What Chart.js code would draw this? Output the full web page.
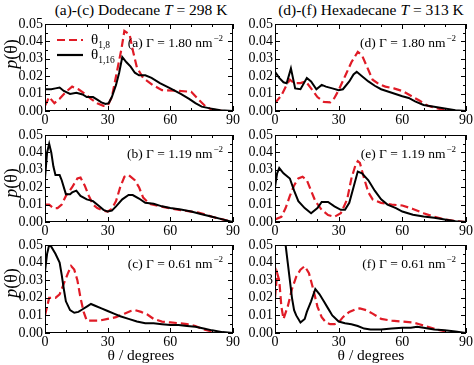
<!DOCTYPE html>
<html lang="en">
<head>
<meta charset="UTF-8">
<title>p(theta) - Dodecane / Hexadecane</title>
<script src="https://cdn.jsdelivr.net/npm/chart.js@4.4.0/dist/chart.umd.min.js"></script>
<style>
  body { margin: 0; background: #fff; }
  #wrap { position: relative; width: 474px; height: 365px; font-family: "Liberation Serif", "DejaVu Serif", serif; color: #000; }
  canvas { position: absolute; }
  .txt { position: absolute; white-space: nowrap; line-height: 18px; }
  .big { font-size: 15.5px; }
  .ylab { font-size: 18px; transform: translate(-50%, -50%) rotate(-90deg); }
  .ctr { transform: translateX(-50%); }
</style>
</head>
<body>
<div id="wrap">
  <div class="txt big ctr" style="left:141px; top:1px;">(a)-(c) Dodecane <i>T</i> = 298 K</div>
  <div class="txt big ctr" style="left:371px; top:1px;">(d)-(f) Hexadecane <i>T</i> = 313 K</div>

  <canvas id="pa" width="240" height="113" style="left:0px; top:14px;"></canvas>
  <canvas id="pb" width="240" height="113" style="left:0px; top:125px;"></canvas>
  <canvas id="pc" width="240" height="114" style="left:0px; top:235px;"></canvas>
  <canvas id="pd" width="239" height="113" style="left:235px; top:14px;"></canvas>
  <canvas id="pe" width="239" height="113" style="left:235px; top:125px;"></canvas>
  <canvas id="pf" width="239" height="114" style="left:235px; top:235px;"></canvas>

  <div class="txt ylab" style="left:11px; top:54px;"><i>p</i>(θ)</div>
  <div class="txt ylab" style="left:11px; top:183px;"><i>p</i>(θ)</div>
  <div class="txt ylab" style="left:11px; top:283px;"><i>p</i>(θ)</div>

  <div class="txt big ctr" style="left:141px; top:346px;">θ / degrees</div>
  <div class="txt big ctr" style="left:371px; top:346px;">θ / degrees</div>
</div>

<script>
  // [angle in degrees, p(theta)]
  // (a) dodecane, 1.80 nm^-2
  const a_t18 = [[0,0.003],[2,0.008],[4.5,0.0045],[7,0.007],[10,0.011],[13,0.014],[16,0.0125],[19,0.010],[22,0.007],[25,0.0045],[28,0.003],[30,0.003],[32,0.008],[34,0.02],[36.5,0.035],[38,0.046],[40.5,0.044],[42,0.035],[44,0.025],[47,0.019],[51.5,0.015],[56,0.012],[63,0.0117],[70,0.011],[74,0.006],[77,0.0025],[80,0.0008],[85,0],[90,0]];
  const a_t116 = [[0,0.0125],[3,0.0125],[5,0.013],[7,0.0135],[9,0.0115],[12,0.0098],[15,0.0105],[18,0.0095],[20,0.008],[23,0.008],[25,0.0065],[27,0.005],[29,0.004],[30.5,0.0045],[32,0.008],[34,0.015],[35.5,0.022],[37,0.031],[39,0.028],[41,0.0255],[43,0.022],[45,0.0205],[48,0.0205],[51,0.019],[55,0.016],[60,0.013],[65,0.0098],[69,0.007],[72,0.0045],[75,0.0025],[79,0.0015],[84,0.0005],[90,0]];
  // (b) dodecane, 1.19 nm^-2
  const b_t18 = [[0,0.01],[2,0.01],[4,0.008],[6,0.008],[8,0.01],[10,0.015],[13,0.02],[15.5,0.025],[17,0.0255],[19,0.021],[21,0.015],[23,0.01],[25,0.008],[28,0.0065],[30,0.006],[32,0.0075],[34,0.012],[36,0.02],[38,0.026],[40,0.027],[43,0.024],[45,0.02],[47,0.014],[50,0.0105],[55,0.009],[60,0.0078],[65,0.0068],[70,0.006],[73,0.0055],[76,0.0045],[80,0.003],[85,0.0015],[90,0]];
  const b_t116 = [[0,0.025],[1,0.04],[2,0.045],[3,0.04],[4,0.032],[5,0.027],[7,0.027],[8,0.024],[10,0.016],[12,0.016],[13,0.017],[15,0.018],[17,0.015],[20,0.013],[23,0.012],[26,0.009],[28,0.007],[30,0.006],[32,0.0065],[34,0.009],[37,0.013],[40,0.0155],[42,0.0155],[45,0.0135],[48,0.011],[52,0.0105],[56,0.009],[60,0.008],[65,0.0072],[70,0.006],[75,0.0045],[80,0.003],[85,0.0015],[90,0]];
  // (c) dodecane, 0.61 nm^-2
  const c_t18 = [[0,0.01],[2,0.02],[5,0.02],[7,0.022],[9,0.028],[11,0.034],[12.5,0.038],[14,0.036],[15.5,0.03],[17,0.02],[18.5,0.012],[20,0.007],[23,0.007],[26,0.007],[30,0.008],[34,0.009],[38,0.011],[41,0.0125],[43,0.013],[46,0.012],[49,0.0105],[52,0.008],[56,0.0065],[60,0.006],[65,0.0055],[68,0.005],[72,0.004],[76,0.002],[80,0.0008],[84,0],[90,0]];
  const c_t116 = [[0,0.035],[1,0.045],[2,0.05],[3,0.049],[5,0.045],[7,0.04],[8,0.033],[9,0.025],[10,0.018],[12,0.013],[14,0.0115],[16,0.012],[18,0.0135],[20,0.015],[22,0.0165],[24,0.0155],[27,0.014],[30,0.0125],[33,0.011],[36,0.0095],[40,0.008],[44,0.0065],[48,0.0055],[52,0.0055],[56,0.005],[60,0.0045],[64,0.0045],[68,0.004],[72,0.0035],[76,0.0025],[80,0.0015],[85,0.0005],[90,0]];
  // (d) hexadecane, 1.80 nm^-2
  const d_t18 = [[0,0.0045],[3,0.009],[5.5,0.015],[7,0.018],[9,0.016],[12,0.016],[14.5,0.017],[17,0.013],[20,0.008],[23,0.0052],[26,0.005],[28,0.0075],[30,0.012],[33,0.02],[36,0.028],[39,0.034],[41,0.032],[43.5,0.025],[46,0.018],[49,0.0155],[52,0.014],[56,0.013],[60,0.0115],[63,0.0095],[68,0.006],[72,0.003],[78,0.001],[83,0],[90,0]];
  const d_t116 = [[0,0.0225],[2,0.019],[4,0.0165],[5.5,0.016],[7.5,0.0245],[9.5,0.013],[12,0.0125],[15,0.019],[17,0.017],[19.5,0.0125],[22,0.015],[24,0.014],[27,0.013],[30,0.012],[32,0.0125],[35,0.017],[37,0.021],[38.5,0.0225],[41,0.020],[44,0.017],[47,0.0145],[50,0.0125],[55,0.0105],[60,0.0085],[63,0.0075],[66,0.0055],[70,0.0035],[75,0.0025],[80,0.0015],[85,0.0005],[90,0]];
  // (e) hexadecane, 1.19 nm^-2
  const e_t18 = [[0,0.0015],[3,0.003],[5,0.008],[7,0.015],[9,0.021],[11,0.025],[13,0.026],[15,0.024],[17,0.018],[19,0.012],[22,0.007],[25,0.004],[28,0.003],[31,0.005],[34,0.013],[36,0.025],[38,0.033],[39,0.035],[40,0.034],[42,0.025],[44,0.017],[46,0.013],[50,0.011],[55,0.010],[60,0.0095],[65,0.0075],[70,0.005],[75,0.003],[80,0.0015],[85,0.0005],[90,0]];
  const e_t116 = [[0,0.02],[1,0.028],[2,0.031],[4,0.028],[7,0.025],[9,0.018],[11,0.012],[14,0.008],[17,0.005],[20,0.008],[22,0.0115],[25,0.0115],[28,0.009],[31,0.007],[33,0.007],[35,0.011],[37,0.02],[39,0.029],[41,0.028],[44,0.024],[47,0.018],[50,0.013],[53,0.010],[57,0.008],[60,0.006],[65,0.0042],[70,0.0032],[75,0.0025],[80,0.0015],[85,0.0005],[90,0]];
  // (f) hexadecane, 0.61 nm^-2
  const f_t18 = [[0,0.02],[1,0.034],[2,0.03],[3,0.015],[4,0.008],[6,0.015],[8,0.025],[10,0.032],[12,0.036],[14,0.038],[16,0.034],[18,0.025],[20,0.015],[22,0.009],[24,0.006],[26,0.005],[28,0.005],[30,0.006],[32,0.009],[35,0.012],[38,0.0135],[40,0.014],[43,0.013],[46,0.011],[50,0.008],[55,0.007],[60,0.0065],[65,0.006],[68,0.005],[72,0.0035],[76,0.002],[80,0.001],[84,0],[90,0]];
  const f_t116 = [[0,0.095],[3,0.068],[5,0.05],[6,0.04],[7,0.03],[8,0.02],[9,0.013],[10,0.01],[12,0.006],[14,0.008],[15,0.012],[17,0.018],[19,0.025],[21,0.022],[23,0.018],[25,0.014],[27,0.01],[30,0.0065],[33,0.0055],[36,0.005],[39,0.004],[42,0.0025],[45,0.002],[50,0.002],[55,0.0025],[60,0.003],[64,0.003],[67,0.0035],[70,0.003],[75,0.002],[80,0.0015],[85,0.0008],[90,0]];

  const xTicks = [0, 30, 60, 90];
  const yTicks = [0, 0.01, 0.02, 0.03, 0.04, 0.05];

  const RED = '#e01b26';
  const FONT = '"Liberation Serif", "DejaVu Serif", serif';

  function toXY(arr) {
    return arr.map(p => ({ x: p[0], y: p[1] }));
  }

  // box + inward ticks on all 4 sides, panel tag, and the legend in (a)
  const framePlugin = {
    id: 'frame',
    afterDatasetsDraw(chart, args, opts) {
      const ctx = chart.ctx;
      const a = chart.chartArea;
      const xs = chart.scales.x, ys = chart.scales.y;
      ctx.save();
      ctx.strokeStyle = '#000';
      ctx.lineWidth = 1;
      ctx.strokeRect(a.left + 0.5, a.top + 0.5, a.right - a.left - 1, a.bottom - a.top - 1);

      ctx.beginPath();
      for (let v = 0; v <= 90; v += 10) {
        const len = v % 30 == 0 ? 5 : 3;
        const px = Math.round(xs.getPixelForValue(v)) + 0.5;
        ctx.moveTo(px, a.bottom); ctx.lineTo(px, a.bottom - len);
        ctx.moveTo(px, a.top); ctx.lineTo(px, a.top + len);
      }
      for (let i = 0; i <= 10; i++) {
        const len = i % 2 == 0 ? 5 : 3;
        const py = Math.round(ys.getPixelForValue(i * 0.005)) + 0.5;
        ctx.moveTo(a.left, py); ctx.lineTo(a.left + len, py);
        ctx.moveTo(a.right, py); ctx.lineTo(a.right - len, py);
      }
      ctx.stroke();

      // "(a) Γ = 1.80 nm^-2"
      ctx.fillStyle = '#000';
      ctx.textAlign = 'right';
      ctx.textBaseline = 'alphabetic';
      ctx.font = '9px ' + FONT;
      const sup = '\u22122';
      const supRight = a.right - 10;
      ctx.fillText(sup, supRight, a.top + 17);
      const supW = ctx.measureText(sup).width;
      ctx.font = '13.5px ' + FONT;
      ctx.fillText(opts.tag + ' \u0393 = ' + opts.gamma + ' nm', supRight - supW - 1, a.top + 23);

      if (opts.legend) {
        const x0 = a.left + 12, x1 = a.left + 38;
        ctx.lineWidth = 2.2;
        ctx.strokeStyle = RED;
        ctx.setLineDash([8, 4]);
        ctx.beginPath(); ctx.moveTo(x0, a.top + 16); ctx.lineTo(x1, a.top + 16); ctx.stroke();
        ctx.setLineDash([]);
        ctx.strokeStyle = '#000';
        ctx.beginPath(); ctx.moveTo(x0, a.top + 31); ctx.lineTo(x1, a.top + 31); ctx.stroke();

        ctx.textAlign = 'left';
        const tx = a.left + 46;
        ctx.font = '15px ' + FONT;
        ctx.fillText('\u03b8', tx, a.top + 20);
        ctx.fillText('\u03b8', tx, a.top + 35);
        const tw = ctx.measureText('\u03b8').width;
        ctx.font = '9.5px ' + FONT;
        ctx.fillText('1,8', tx + tw, a.top + 24);
        ctx.fillText('1,16', tx + tw, a.top + 39);
      }
      ctx.restore();
    }
  };

  function makePanel(id, red, black, tag, gamma, yWidth, padRight, legend) {
    const tickFont = { family: FONT, size: 14 };
    return new Chart(document.getElementById(id), {
      type: 'line',
      data: {
        datasets: [
          { label: '\u03b81,8', data: toXY(red), borderColor: RED, borderWidth: 2.2, borderDash: [8, 4], pointRadius: 0, tension: 0, order: 2 },
          { label: '\u03b81,16', data: toXY(black), borderColor: '#000', borderWidth: 2, pointRadius: 0, tension: 0, order: 1 }
        ]
      },
      options: {
        responsive: false,
        animation: false,
        devicePixelRatio: 1,
        layout: { padding: { top: 10, right: padRight, left: 0, bottom: 0 } },
        plugins: {
          legend: { display: false },
          tooltip: { enabled: false },
          frame: { tag: tag, gamma: gamma, legend: legend }
        },
        scales: {
          x: {
            type: 'linear', min: 0, max: 90,
            grid: { display: false, drawTicks: false },
            border: { display: false },
            afterBuildTicks: s => { s.ticks = xTicks.map(v => ({ value: v })); },
            ticks: { font: tickFont, color: '#000', padding: 1, maxRotation: 0, autoSkip: false },
            afterFit: s => { s.height = 16; s.paddingLeft = 0; s.paddingRight = 0; }
          },
          y: {
            type: 'linear', min: 0, max: 0.05,
            grid: { display: false, drawTicks: false },
            border: { display: false },
            afterBuildTicks: s => { s.ticks = yTicks.map(v => ({ value: v })); },
            ticks: { font: tickFont, color: '#000', padding: 2, autoSkip: false, callback: v => v.toFixed(2) },
            afterFit: s => { s.width = yWidth; s.paddingTop = 0; s.paddingBottom = 0; }
          }
        }
      },
      plugins: [framePlugin]
    });
  }

  makePanel('pa', a_t18, a_t116, '(a)', '1.80', 45, 7, true);
  makePanel('pb', b_t18, b_t116, '(b)', '1.19', 45, 7, false);
  makePanel('pc', c_t18, c_t116, '(c)', '0.61', 45, 7, false);
  makePanel('pd', d_t18, d_t116, '(d)', '1.80', 40, 8, false);
  makePanel('pe', e_t18, e_t116, '(e)', '1.19', 40, 8, false);
  makePanel('pf', f_t18, f_t116, '(f)', '0.61', 40, 8, false);
</script>
</body>
</html>
